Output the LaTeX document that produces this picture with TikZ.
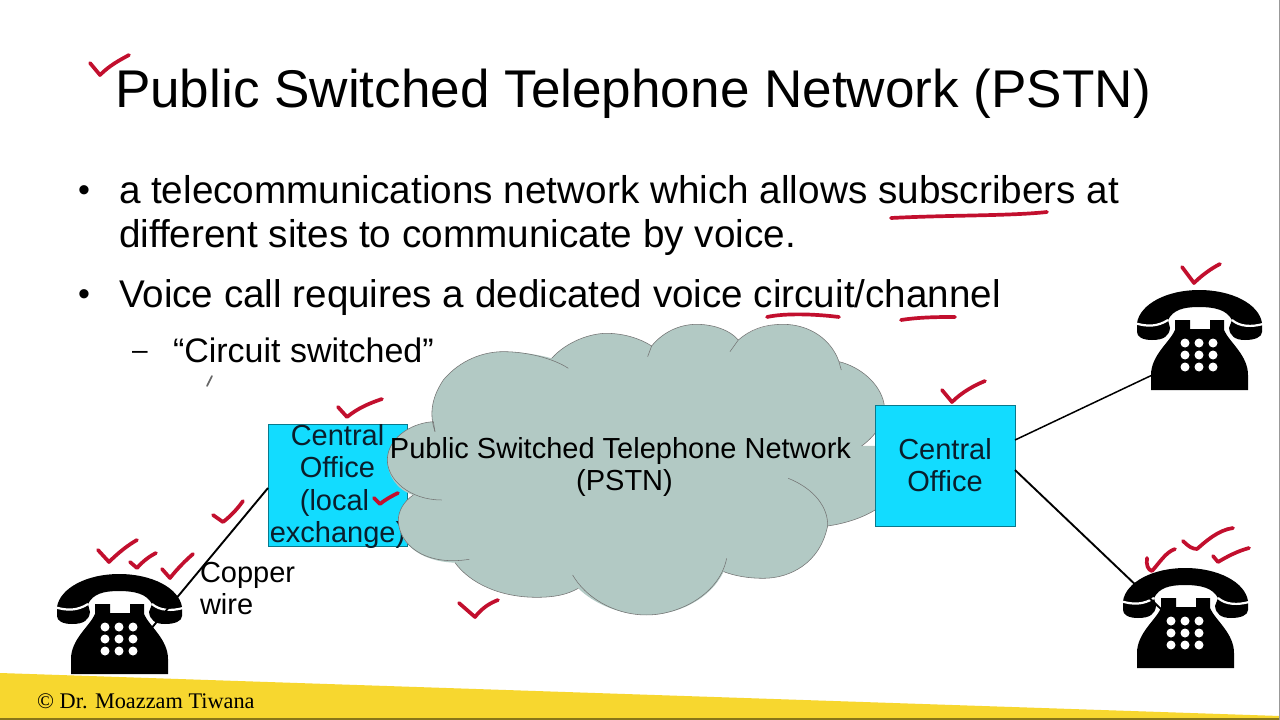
\documentclass[tikz,border=0pt]{standalone}
\usepackage{fontspec}
\setmainfont{Liberation Sans}
\newfontfamily\footserif{Liberation Serif}
\definecolor{inkred}{HTML}{C20F2E}
\definecolor{boxcyan}{HTML}{12DCFF}
\definecolor{cloudfill}{HTML}{B2C9C4}
\definecolor{bandyellow}{HTML}{F7D72F}
\definecolor{darktext}{HTML}{0A1E2C}
\newcommand{\fsz}[2]{\fontsize{#1}{#2}\selectfont}
\tikzset{
  x=1pt,y=-1pt,
  inkmark/.style={draw=inkred,line width=3.7pt,line cap=round,line join=round},
  wire/.style={draw=black,line width=1.9pt},
  txt/.style={inner sep=0pt,outer sep=0pt,text=black},
  cloudline/.style={draw=black!55,line width=0.55pt},
  officebox/.style={draw=black!45!boxcyan,line width=0.6pt,fill=boxcyan,inner sep=0pt,align=center,text=darktext},
  phonepic/.pic={
    \fill[black] (0,33) .. controls (3,14) and (30,0) .. (62,0) .. controls (95,0) and (122,14) .. (125,33)
      -- (125,42) .. controls (125,47) and (118,50) .. (108,50) .. controls (98,50) and (93,46) .. (92,38)
      -- (95,30) .. controls (90,20) and (78,17) .. (62,17) .. controls (46,17) and (36,20) .. (31,30)
      -- (33,38) .. controls (32,46) and (27,50) .. (15,50) .. controls (6,50) and (0,47) .. (0,42) -- cycle;
    \draw[white,line width=2.2pt] (-1,33.5) .. controls (10,36.5) and (20,37) .. (31,30);
    \draw[white,line width=2.2pt] (95,30) .. controls (103,37) and (115,37) .. (126,34);
    \fill[black] (38,30) -- (53,30) -- (53,39) -- (73,39) -- (73,30) -- (87,30) -- (87,40)
      .. controls (92,52) and (111,65) .. (111,85) -- (111,100) -- (14,100) -- (14,85)
      .. controls (14,65) and (33,52) .. (38,40) -- cycle;
    \foreach \px in {48,62,76}{\foreach \py in {53,65,77}{\fill[white] (\px,\py) circle[radius=4.5];}}
  }
}
\begin{document}
\begin{tikzpicture}
\useasboundingbox (0,0) rectangle (1280,720);
\fill[white] (0,0) rectangle (1280,720);
% footer band
\fill[bandyellow] (0,673) -- (1280,716) -- (1280,720) -- (0,720) -- cycle;
\fill[black!45!bandyellow] (0,718.2) rectangle (1280,720);
\fill[black!40] (1278.8,0) rectangle (1280,720);
\node[anchor=base west,inner sep=0pt,text=black,font=\footserif\fsz{22.3}{25}] (footer) at (37,708) {© Dr. Moazzam Tiwana};
% title and bullets
\node[txt,anchor=base west,font=\fsz{53.1}{58}] (title) at (115,107) {Public Switched Telephone Network (PSTN)};
\node[txt,anchor=base,font=\fsz{34}{38}] (b1) at (84,201.5) {•};
\node[txt,anchor=base west,font=\fsz{38.7}{43}] (l1) at (119,203) {a telecommunications network which allows subscribers at};
\node[txt,anchor=base west,font=\fsz{38.7}{43}] (l2) at (119,247) {different sites to communicate by voice.};
\node[txt,anchor=base,font=\fsz{34}{38}] (b2) at (84,305.5) {•};
\node[txt,anchor=base west,font=\fsz{38.6}{43}] (l3) at (119,307) {Voice call requires a dedicated voice circuit/channel};
\node[txt,anchor=base,font=\fsz{28}{32}] (dash) at (140,359.5) {–};
\node[txt,anchor=base west,font=\fsz{34}{38}] (l4) at (173,362) {“Circuit switched”};
% left office, beneath the cloud
\node[officebox,minimum width=139,minimum height=122] (co1) at (337.5,485) {};
\node[txt,text=darktext,align=center,font=\fsz{29}{32.3}] (co1text) at (337.5,486.5)
  {Central\\Office\\\hspace*{-6pt}(local\\exchange)};
% cloud
\begin{scope}[shift={(380,320)},x=0.3333pt,y=-0.3333pt]
\fill[cloudfill] (165,335) .. controls (150,290) and (150,240) .. (190,180)
  .. controls (240,120) and (310,95) .. (370,95) .. controls (420,95) and (480,105) .. (515,115)
  .. controls (560,65) and (630,40) .. (680,40) .. controls (730,40) and (780,55) .. (815,78)
  .. controls (850,35) and (900,13) .. (950,13) .. controls (1000,13) and (1050,30) .. (1075,60)
  .. controls (1110,30) and (1160,13) .. (1210,13) .. controls (1290,13) and (1355,60) .. (1377,125)
  .. controls (1440,140) and (1500,190) .. (1512,250) .. controls (1520,300) and (1490,345) .. (1445,378)
  -- (1540,378) -- (1540,560) -- (1500,560) .. controls (1460,590) and (1400,610) .. (1343,618)
  .. controls (1320,730) and (1230,775) .. (1150,775) .. controls (1105,775) and (1065,768) .. (1031,755)
  .. controls (990,840) and (890,885) .. (800,885) .. controls (720,885) and (640,850) .. (595,805)
  .. controls (560,825) and (520,832) .. (470,832) .. controls (360,832) and (270,790) .. (225,728)
  .. controls (120,725) and (55,670) .. (55,600) .. controls (55,575) and (70,545) .. (100,525)
  .. controls (50,510) and (22,465) .. (22,420) .. controls (22,360) and (85,310) .. (160,305) -- cycle;
\draw[cloudline]
  (165,335) .. controls (150,290) and (150,240) .. (190,180)
  .. controls (240,120) and (310,95) .. (370,95) .. controls (440,95) and (520,115) .. (565,145);
\draw[cloudline] (515,115) .. controls (560,65) and (630,40) .. (680,40)
  .. controls (730,40) and (780,55) .. (815,78) -- (803,110);
\draw[cloudline] (815,78) .. controls (850,35) and (900,13) .. (950,13)
  .. controls (1000,13) and (1050,30) .. (1075,60) -- (1050,95);
\draw[cloudline] (1075,60) .. controls (1110,30) and (1150,13) .. (1210,13)
  .. controls (1290,13) and (1355,60) .. (1377,125) -- (1384,150);
\draw[cloudline] (1377,125) .. controls (1440,140) and (1500,190) .. (1512,250)
  .. controls (1520,300) and (1490,345) .. (1445,378);
\draw[cloudline] (1500,560) .. controls (1460,590) and (1400,610) .. (1343,618);
\draw[cloudline] (1225,475) .. controls (1300,505) and (1345,560) .. (1343,618)
  .. controls (1320,730) and (1230,775) .. (1150,775) .. controls (1105,775) and (1065,768) .. (1031,755);
\draw[cloudline] (1040,715) .. controls (1020,820) and (900,885) .. (800,885)
  .. controls (700,885) and (615,830) .. (578,765);
\draw[cloudline] (595,805) .. controls (560,825) and (520,832) .. (470,832)
  .. controls (360,832) and (270,790) .. (225,728);
\draw[cloudline] (268,718) .. controls (130,740) and (55,670) .. (55,600)
  .. controls (55,575) and (70,545) .. (100,525);
\draw[cloudline] (185,540) .. controls (90,540) and (22,480) .. (22,420)
  .. controls (22,360) and (85,310) .. (160,305) -- (165,335);
\end{scope}
\node[txt,align=center,font=\fsz{29}{32}] (cloudtext) at (620.5,467) {Public Switched Telephone Network\\\hspace*{8pt}(PSTN)};
% right office
\node[officebox,minimum width=140,minimum height=121,font=\fsz{29}{32}] (co2) at (945,465.5)
  {Central\\Office};
% telephones
\pic at (57,574) {phonepic};
\pic at (1137,290) {phonepic};
\pic at (1123,568) {phonepic};
\coordinate (phoneL) at (150,630);
\coordinate (phoneTR) at (1165,369);
\coordinate (phoneBR) at (1162,610);
\coordinate (co1port) at (268,488);
\coordinate (co2a) at (1015,440);
\coordinate (co2b) at (1015,470);
\draw[wire] (co1port) -- (phoneL);
\draw[wire,line width=1.5pt] (co2a) -- (phoneTR);
\draw[wire] (co2b) -- (phoneBR);
\node[txt,align=left,anchor=west,font=\fsz{29}{32}] (copper) at (200,589) {Copper\\wire};
% hand-drawn marks
\draw[inkmark] (90,63) -- (100,75) .. controls (110,65) and (120,60) .. (129,55);
\draw[inkmark] (891,218) .. controls (950,215) and (1010,216) .. (1047,212);
\draw[inkmark] (767,317) .. controls (785,313) and (815,314) .. (839,317);
\draw[inkmark] (901,320) .. controls (920,317) and (940,317) .. (955,317);
\draw[inkmark] (1182,267) -- (1194,283) .. controls (1202,275) and (1212,268) .. (1220,264);
\draw[inkmark] (942,390) -- (952,402) .. controls (962,392) and (975,385) .. (985,381);
\draw[inkmark] (338,407) -- (347,417) .. controls (358,408) and (370,403) .. (382,399);
\draw[inkmark] (374,498) -- (380,504) .. controls (386,499) and (392,496) .. (398,493);
\draw[inkmark] (213,515) -- (223,522) .. controls (232,515) and (238,508) .. (243,501);
\draw[inkmark] (98,550) -- (109,562) .. controls (118,553) and (128,545) .. (137,540);
\draw[inkmark] (130,562) -- (137,568) .. controls (143,561) and (150,556) .. (156,553);
\draw[inkmark] (162,569) -- (170,578) .. controls (178,568) and (186,560) .. (193,554);
\draw[inkmark] (459,603) -- (475,617) .. controls (482,608) and (490,603) .. (498,600);
\draw[inkmark] (1147,558) .. controls (1146,565) and (1148,570) .. (1152,571) .. controls (1160,562) and (1166,552) .. (1175,549);
\draw[inkmark] (1183,541) .. controls (1188,546) and (1192,549) .. (1197,549) .. controls (1205,542) and (1218,530) .. (1233,528);
\draw[inkmark] (1213,556) -- (1218,562) .. controls (1228,556) and (1238,551) .. (1249,548);
\draw[black!60,line width=1.6pt,line cap=round] (212,376) -- (207,386);
\end{tikzpicture}
\end{document}
